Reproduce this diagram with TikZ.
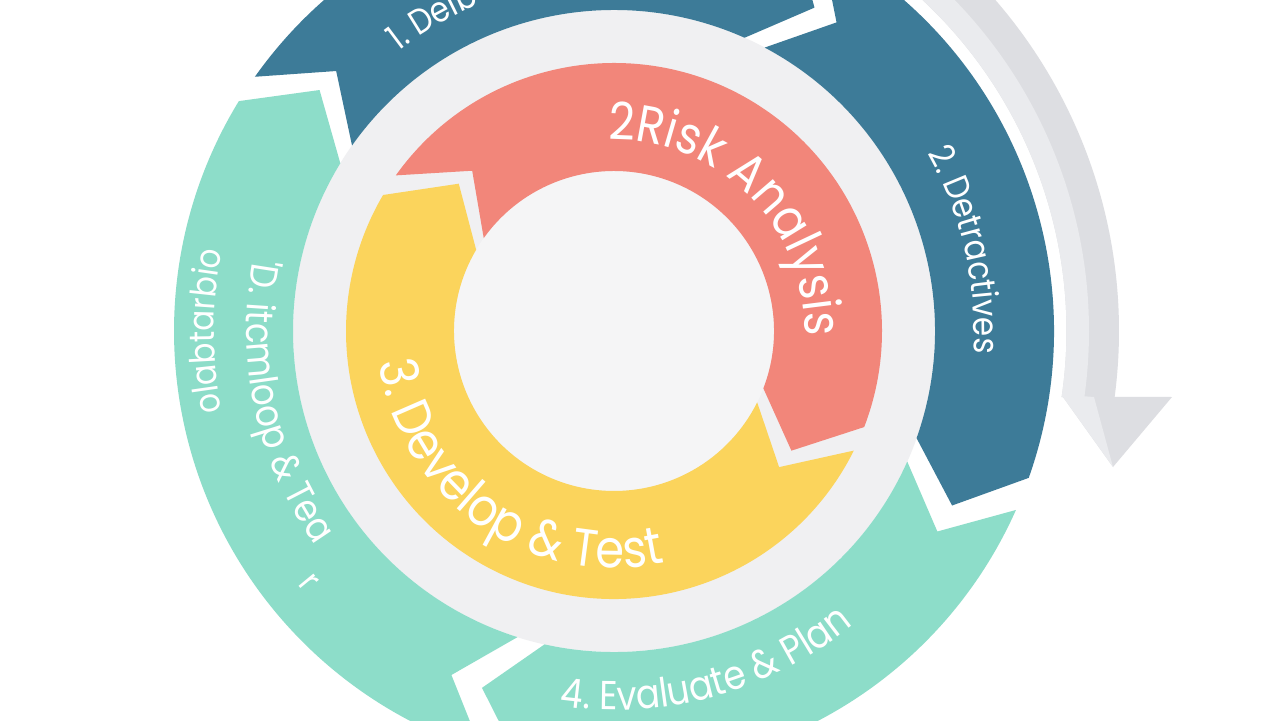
\documentclass[tikz,border=0pt]{standalone}
\usepackage{fontspec}
\newfontfamily\lblfont[FakeStretch=0.88]{Poppins}
\usetikzlibrary{decorations.text}
\definecolor{segblue}{RGB}{61,123,152}
\definecolor{segteal}{RGB}{141,221,201}
\definecolor{segred}{RGB}{242,134,122}
\definecolor{segyellow}{RGB}{251,212,92}
\definecolor{gapgray}{RGB}{240,240,242}
\definecolor{coregray}{RGB}{245,245,246}
\definecolor{arrowgray}{RGB}{221,222,226}
\definecolor{arrowlight}{RGB}{234,235,238}
\tikzstyle{ring} = [draw=none]
\tikzset{seglabel/.style={decorate, decoration={text along path, text align=center,
    text color=white, text={#1}}}}

\begin{document}
\begin{tikzpicture}
% canvas, centre of the spiral at the origin
\useasboundingbox (-12.28,-7.78) rectangle (13.32,6.62);
\clip (-12.28,-7.78) rectangle (13.32,6.62);
\fill[white] (-12.28,-7.78) rectangle (13.32,6.62);

% segment of a ring: colour, start, end, inner r, outer r, chevron depth
\def\ringseg#1#2#3#4#5#6{
\fill[ring,#1] (#2:#5) arc[start angle=#2, end angle=#3, radius=#5]
    -- ({#3-#6}:{(#4+#5)/2}) -- (#3:#4)
    arc[start angle=#3, end angle=#2, radius=#4]
    -- ({#2-#6}:{(#4+#5)/2}) -- cycle;
}

% grey return arrow on the right
\fill[arrowgray] (62:10.1) arc[start angle=62, end angle=-7.5, radius=10.1]
    -- (11.16,-1.32) -- (9.98,-2.72) -- (8.98,-1.32)
    -- (-8.4:9.05) arc[start angle=-8.4, end angle=62, radius=9.05] -- cycle;
\fill[arrowlight] (62:9.5) arc[start angle=62, end angle=-7.9, radius=9.5]
    -- (9.6,-1.32) -- (9.98,-2.72) -- (8.98,-1.32)
    -- (-8.4:9.05) arc[start angle=-8.4, end angle=62, radius=9.05] -- cycle;

% background rings
\fill[gapgray] (0,0) circle (6.42);
\fill[coregray] (0,0) circle (3.2);

% outer ring
\ringseg{segblue}{144.7}{66}{6.42}{8.8}{7.8}
\ringseg{segblue}{62}{-19.5}{6.42}{8.8}{7.8}
\ringseg{segteal}{-24}{-102.5}{6.42}{8.8}{7.8}
\ringseg{segteal}{-107.5}{-211.5}{6.42}{8.8}{7.8}

% inner ring
\ringseg{segred}{144.5}{-21}{3.2}{5.36}{13}
\ringseg{segyellow}{-26.5}{-210.5}{3.2}{5.36}{13}

% labels
\path[seglabel={|\lblfont\fontsize{29.5}{33}\selectfont|2Risk Analysis}]
    (105:3.82) arc[start angle=105, end angle=-15, radius=3.82];
\path[seglabel={|\lblfont\fontsize{30}{34}\selectfont|3. Develop {\&} Test}]
    (160:4.74) arc[start angle=160, end angle=310, radius=4.74];
\path[seglabel={|\lblfont\fontsize{20}{24}\selectfont|2. Detractives}]
    (53:7.2) arc[start angle=53, end angle=-27, radius=7.2];
\path[seglabel={|\lblfont\fontsize{23}{27}\selectfont|4. Evaluate {\&} Plan}]
    (-120:7.58) arc[start angle=-120, end angle=-29, radius=7.58];
\path[seglabel={|\lblfont\fontsize{20}{24}\selectfont|1. Delb}]
    (152:7.06) arc[start angle=152, end angle=88, radius=7.06];
\path[seglabel={|\lblfont\fontsize{22}{26}\selectfont|'D. itcmloop {\&} Tea}]
    (156:7.35) arc[start angle=156, end angle=228, radius=7.35];
\path[seglabel={|\lblfont\fontsize{20}{24}\selectfont|r}]
    (212.5:8.1) arc[start angle=212.5, end angle=226.5, radius=8.1];
\path[seglabel={|\lblfont\fontsize{20}{24}\selectfont|olabtarbio}]
    (198:8.0) arc[start angle=198, end angle=162, radius=8.0];

\end{tikzpicture}
\end{document}
